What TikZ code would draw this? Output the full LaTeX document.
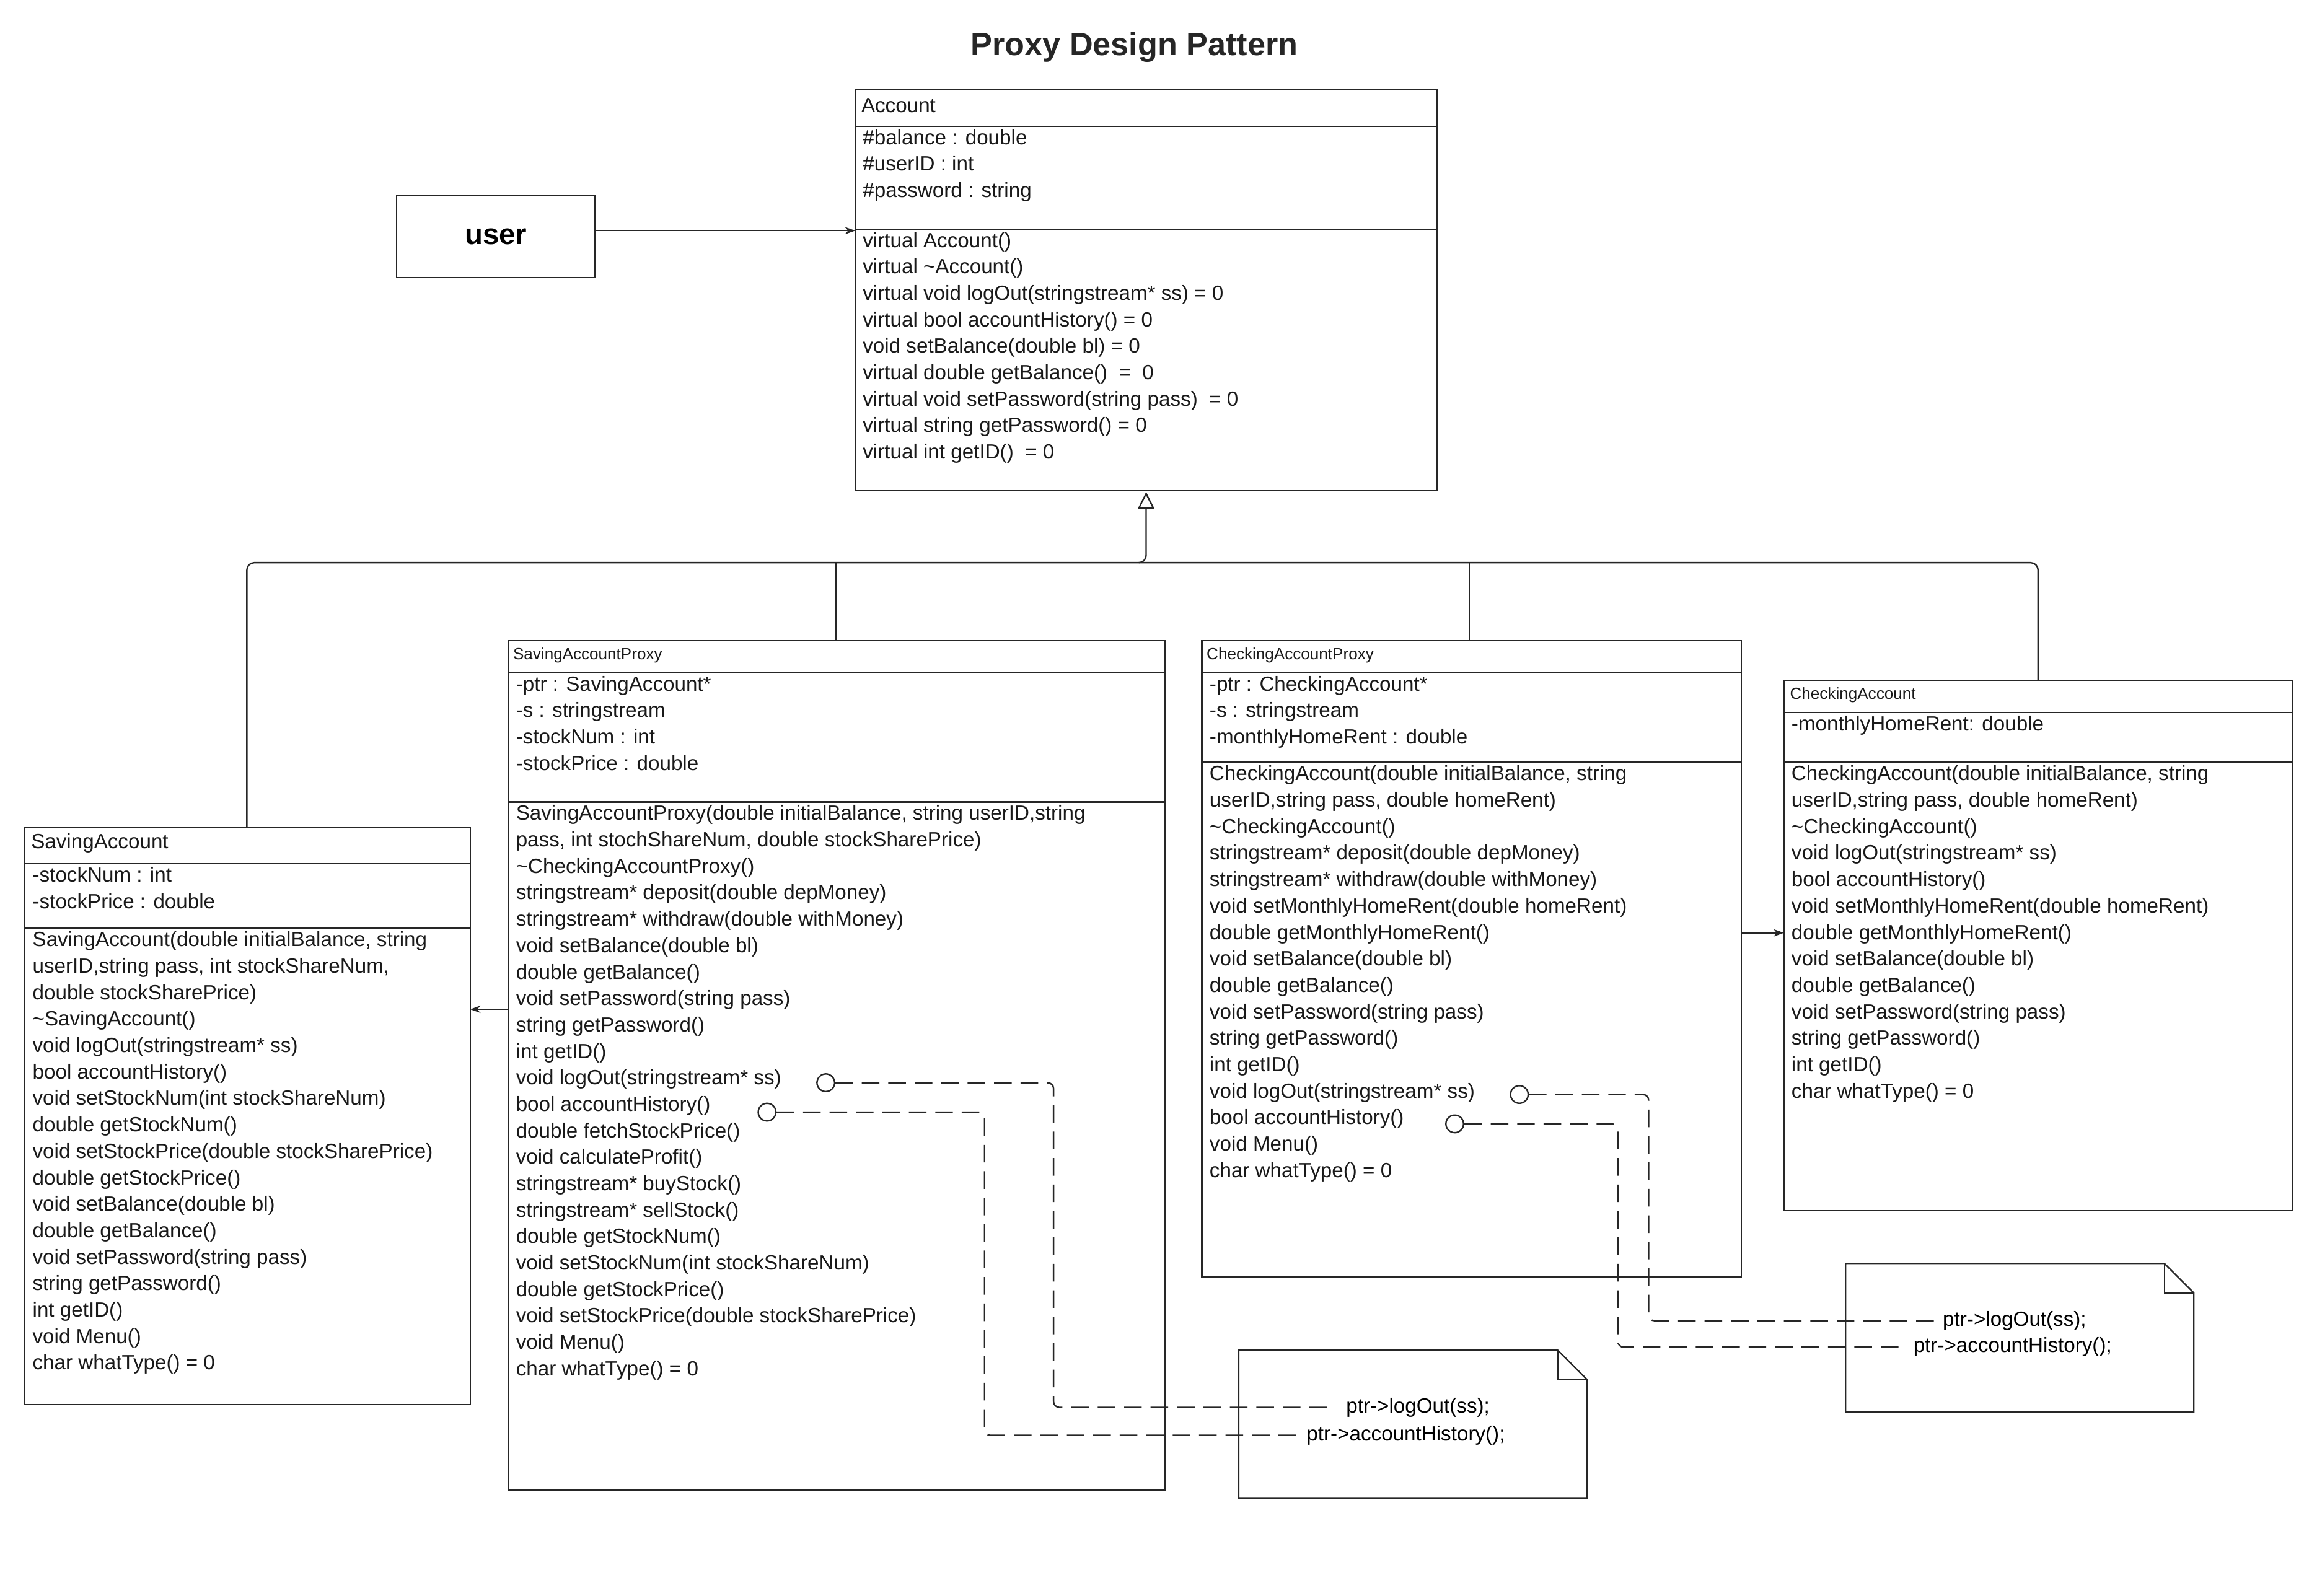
\documentclass[tikz,border=0pt]{standalone}
\usepackage{fontspec}
\setmainfont{Liberation Sans}
\usetikzlibrary{arrows.meta}
\begin{document}
\begin{tikzpicture}[x=1pt,y=-1pt,
  ln/.style={draw=black!85, line width=1pt},
  txt/.style={anchor=north west, align=left, inner sep=0pt, font=\fontsize{14}{18}\selectfont, text=black!90},
  hdr/.style={anchor=west, inner sep=0pt, font=\fontsize{11}{13}\selectfont, text=black!90},
  dsh/.style={draw=black!85, line width=1pt, dash pattern=on 12pt off 6pt},
  arr/.style={ln, -{Stealth[length=7pt,width=5pt]}}]
\useasboundingbox (0,0) rectangle (1568,1086);
\node[font=\bfseries\fontsize{22}{26}\selectfont, text=black!85] (title) at (772,32) {Proxy Design Pattern};
% Account
\draw[ln] (582,61) rectangle (978,334);
\draw[ln] (582,86) -- (978,86); \draw[ln] (582,156) -- (978,156);
\node[hdr, font=\fontsize{14}{16}\selectfont] (accH) at (586,72) {Account};
\node[txt] (accA) at (587,88) {\#balance : double\\\#userID : int\\\#password : string};
\node[txt] (accM) at (587,158) {virtual Account()\\virtual \textasciitilde Account()\\virtual void logOut(stringstream* ss) = 0\\virtual bool accountHistory() = 0\\void setBalance(double bl) = 0\\virtual double getBalance()~~=~~0\\virtual void setPassword(string pass)~~= 0\\virtual string getPassword() = 0\\virtual int getID()~~= 0};
\coordinate (accB) at (780,335);
% user
\node[ln, minimum width=135pt, minimum height=56pt, font=\bfseries\fontsize{20}{24}\selectfont] (user) at (337.5,161) {user};
\coordinate (accL) at (582,157);
\draw[arr] (405,157) -- (accL);
% inheritance
\draw[ln, rounded corners=5pt] (168,563) -- (168,383) -- (1387,383) -- (1387,463);
\draw[ln, rounded corners=5pt] (775,383) -- (780,383) -- (780,346);
\draw[ln] (569,383) -- (569,436);
\draw[ln] (1000,383) -- (1000,436);
\draw[ln, fill=white] (780,336) -- (785,346) -- (775,346) -- cycle;
% SavingAccount
\draw[ln] (17,563) rectangle (320,956);
\draw[ln] (17,588) -- (320,588); \draw[ln] (17,632) -- (320,632);
\node[hdr, font=\fontsize{14}{16}\selectfont] (saH) at (21,574) {SavingAccount};
\node[txt] (saA) at (22,590) {-stockNum : int\\-stockPrice : double};
\node[txt] (saM) at (22,634) {SavingAccount(double initialBalance, string\\userID,string pass, int stockShareNum,\\double stockSharePrice)\\\textasciitilde SavingAccount()\\void logOut(stringstream* ss)\\bool accountHistory()\\void setStockNum(int stockShareNum)\\double getStockNum()\\void setStockPrice(double stockSharePrice)\\double getStockPrice()\\void setBalance(double bl)\\double getBalance()\\void setPassword(string pass)\\string getPassword()\\int getID()\\void Menu()\\char whatType() = 0};
% SavingAccountProxy
\draw[ln] (346,436) rectangle (793,1014);
\draw[ln] (346,458) -- (793,458); \draw[ln] (346,546) -- (793,546);
\node[hdr] (spH) at (349,446) {SavingAccountProxy};
\node[txt] (spA) at (351,460) {-ptr : SavingAccount*\\-s : stringstream\\-stockNum : int\\-stockPrice : double};
\node[txt] (spM) at (351,548) {SavingAccountProxy(double initialBalance, string userID,string\\pass, int stochShareNum, double stockSharePrice)\\\textasciitilde CheckingAccountProxy()\\stringstream* deposit(double depMoney)\\stringstream* withdraw(double withMoney)\\void setBalance(double bl)\\double getBalance()\\void setPassword(string pass)\\string getPassword()\\int getID()\\void logOut(stringstream* ss)\\bool accountHistory()\\double fetchStockPrice()\\void calculateProfit()\\stringstream* buyStock()\\stringstream* sellStock()\\double getStockNum()\\void setStockNum(int stockShareNum)\\double getStockPrice()\\void setStockPrice(double stockSharePrice)\\void Menu()\\char whatType() = 0};
\coordinate (saR) at (320,687);
\draw[arr] (346,687) -- (saR);
% CheckingAccountProxy
\draw[ln] (818,436) rectangle (1185,869);
\draw[ln] (818,458) -- (1185,458); \draw[ln] (818,519) -- (1185,519);
\node[hdr] (cpH) at (821,446) {CheckingAccountProxy};
\node[txt] (cpA) at (823,460) {-ptr : CheckingAccount*\\-s : stringstream\\-monthlyHomeRent : double};
\node[txt] (cpM) at (823,521) {CheckingAccount(double initialBalance, string\\userID,string pass, double homeRent)\\\textasciitilde CheckingAccount()\\stringstream* deposit(double depMoney)\\stringstream* withdraw(double withMoney)\\void setMonthlyHomeRent(double homeRent)\\double getMonthlyHomeRent()\\void setBalance(double bl)\\double getBalance()\\void setPassword(string pass)\\string getPassword()\\int getID()\\void logOut(stringstream* ss)\\bool accountHistory()\\void Menu()\\char whatType() = 0};
% CheckingAccount
\draw[ln] (1214,463) rectangle (1560,824);
\draw[ln] (1214,485) -- (1560,485); \draw[ln] (1214,519) -- (1560,519);
\node[hdr] (caH) at (1218,473) {CheckingAccount};
\node[txt] (caA) at (1219,487) {-monthlyHomeRent: double};
\node[txt] (caM) at (1219,521) {CheckingAccount(double initialBalance, string\\userID,string pass, double homeRent)\\\textasciitilde CheckingAccount()\\void logOut(stringstream* ss)\\bool accountHistory()\\void setMonthlyHomeRent(double homeRent)\\double getMonthlyHomeRent()\\void setBalance(double bl)\\double getBalance()\\void setPassword(string pass)\\string getPassword()\\int getID()\\char whatType() = 0};
\coordinate (caL) at (1214,635);
\draw[arr] (1185,635) -- (caL);
% notes
\draw[ln] (843,919) -- (1060,919) -- (1080,939) -- (1080,1020) -- (843,1020) -- cycle;
\draw[ln] (1060,919) -- (1060,939) -- (1080,939);
\draw[ln] (1256,860) -- (1473,860) -- (1493,880) -- (1493,961) -- (1256,961) -- cycle;
\draw[ln] (1473,860) -- (1473,880) -- (1493,880);
\node[anchor=east, inner sep=0pt, font=\fontsize{14}{18}\selectfont] (n1a) at (1014,958) {ptr->logOut(ss);};
\node[anchor=west, inner sep=0pt, font=\fontsize{14}{18}\selectfont] (n1b) at (889,977) {ptr->accountHistory();};
\node[anchor=west, inner sep=0pt, font=\fontsize{14}{18}\selectfont] (n2a) at (1322,899) {ptr->logOut(ss);};
\node[anchor=west, inner sep=0pt, font=\fontsize{14}{18}\selectfont] (n2b) at (1302,917) {ptr->accountHistory();};
% lollipops
\node[circle, ln, minimum size=12pt, inner sep=0pt] (c1) at (562,737) {};
\node[circle, ln, minimum size=12pt, inner sep=0pt] (c2) at (522,757) {};
\node[circle, ln, minimum size=12pt, inner sep=0pt] (c3) at (1034,745) {};
\node[circle, ln, minimum size=12pt, inner sep=0pt] (c4) at (990,765) {};
\draw[dsh, rounded corners=4pt] (c1.east) -- (717,737) -- (717,958) -- (905,958);
\draw[dsh, rounded corners=4pt] (c2.east) -- (670,757) -- (670,977) -- (885,977);
\draw[dsh, rounded corners=4pt] (c3.east) -- (1122,745) -- (1122,899) -- (1318,899);
\draw[dsh, rounded corners=4pt] (c4.east) -- (1101,765) -- (1101,917) -- (1298,917);
\end{tikzpicture}
\end{document}
